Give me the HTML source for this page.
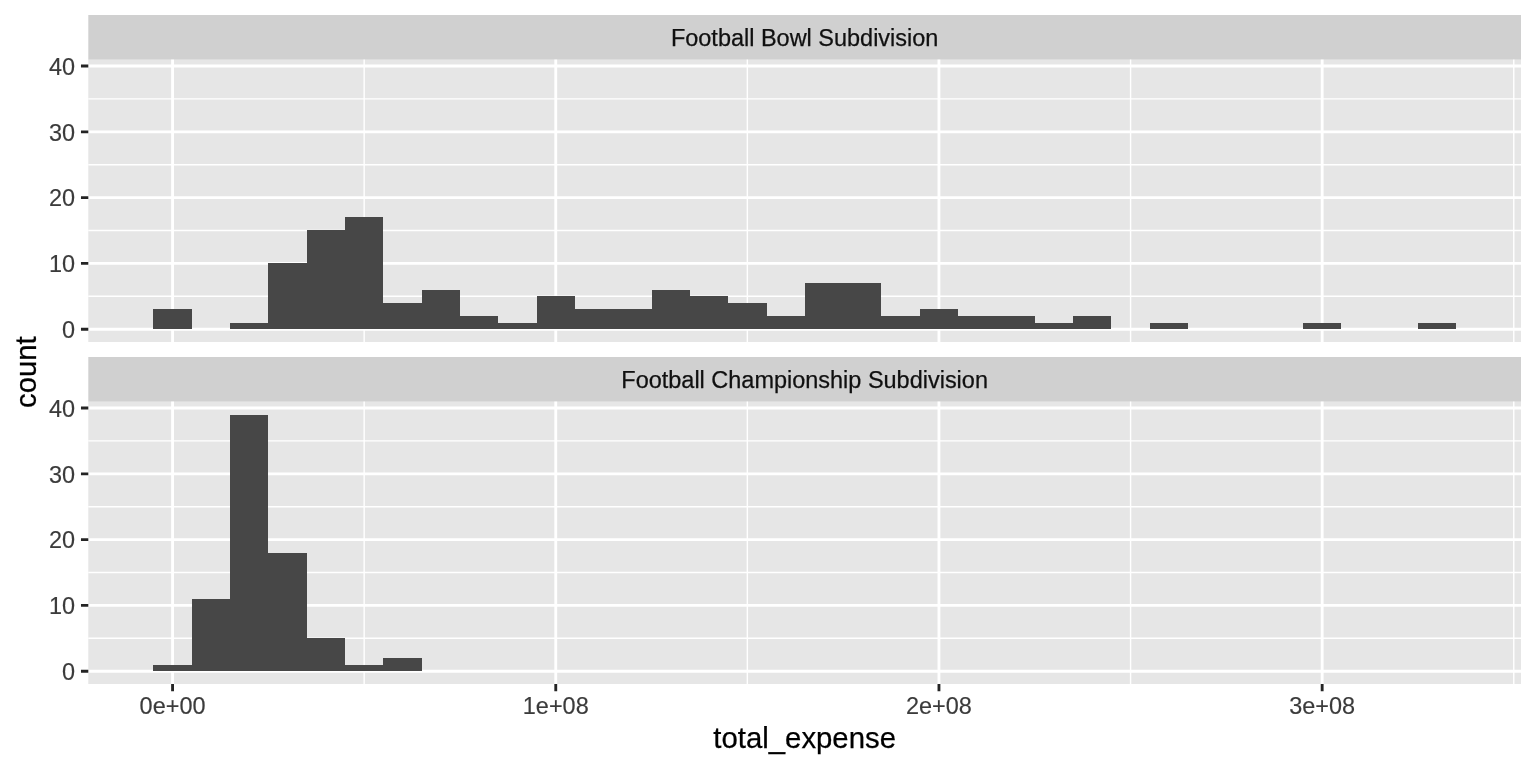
<!DOCTYPE html>
<html lang="en"><head><meta charset="utf-8"><title>total_expense histogram</title>
<style>
html,body{margin:0;padding:0;background:#fff;}
body{width:1536px;height:768px;overflow:hidden;}
svg{display:block;}
text{font-family:"Liberation Sans",sans-serif;}
.ax{font-size:23.47px;fill:#3b3b3b;stroke:#3b3b3b;stroke-width:0.15px;}
.st{font-size:23.47px;fill:#101010;stroke:#101010;stroke-width:0.25px;}
.ti{font-size:29.33px;fill:#000;stroke:#000;stroke-width:0.25px;}
</style></head><body>
<svg width="1536" height="768" viewBox="0 0 1536 768">
<rect x="0" y="0" width="1536" height="768" fill="#ffffff"/>
<g>
<rect x="88.3" y="59" width="1432.7" height="283" fill="#e6e6e6"/>
<path d="M88.3 296.3H1521M88.3 230.5H1521M88.3 164.7H1521M88.3 98.9H1521M364.16 59V342M747.36 59V342M1130.56 59V342M1513.76 59V342" stroke="#fff" stroke-width="1.42" fill="none"/>
<path d="M88.3 329.2H1521M88.3 263.4H1521M88.3 197.6H1521M88.3 131.8H1521M88.3 66H1521M172.56 59V342M555.76 59V342M938.96 59V342M1322.16 59V342" stroke="#fff" stroke-width="2.85" fill="none"/>
<g fill="#474747" shape-rendering="crispEdges"><rect x="153" y="309" width="39" height="20"/><rect x="230" y="323" width="38" height="6"/><rect x="268" y="263" width="39" height="66"/><rect x="307" y="230" width="38" height="99"/><rect x="345" y="217" width="38" height="112"/><rect x="383" y="303" width="39" height="26"/><rect x="422" y="290" width="38" height="39"/><rect x="460" y="316" width="38" height="13"/><rect x="498" y="323" width="39" height="6"/><rect x="537" y="296" width="38" height="33"/><rect x="575" y="309" width="38" height="20"/><rect x="613" y="309" width="39" height="20"/><rect x="652" y="290" width="38" height="39"/><rect x="690" y="296" width="38" height="33"/><rect x="728" y="303" width="39" height="26"/><rect x="767" y="316" width="38" height="13"/><rect x="805" y="283" width="38" height="46"/><rect x="843" y="283" width="38" height="46"/><rect x="881" y="316" width="39" height="13"/><rect x="920" y="309" width="38" height="20"/><rect x="958" y="316" width="38" height="13"/><rect x="996" y="316" width="39" height="13"/><rect x="1035" y="323" width="38" height="6"/><rect x="1073" y="316" width="38" height="13"/><rect x="1150" y="323" width="38" height="6"/><rect x="1303" y="323" width="38" height="6"/><rect x="1418" y="323" width="38" height="6"/></g>
<rect x="88.3" y="15" width="1432.7" height="44.4" fill="#d0d0d0"/>
<text class="st" x="804.65" y="45.8" text-anchor="middle" transform="rotate(0.02 804.65 45.8)">Football Bowl Subdivision</text>
<text class="ax" x="75.1" y="338.1" text-anchor="end" transform="rotate(0.02 75.1 338.1)">0</text>
<text class="ax" x="75.1" y="272.3" text-anchor="end" transform="rotate(0.02 75.1 272.3)">10</text>
<text class="ax" x="75.1" y="206.5" text-anchor="end" transform="rotate(0.02 75.1 206.5)">20</text>
<text class="ax" x="75.1" y="140.7" text-anchor="end" transform="rotate(0.02 75.1 140.7)">30</text>
<text class="ax" x="75.1" y="74.9" text-anchor="end" transform="rotate(0.02 75.1 74.9)">40</text>
<path d="M80.97 329.2H88.3M80.97 263.4H88.3M80.97 197.6H88.3M80.97 131.8H88.3M80.97 66H88.3" stroke="#242424" stroke-width="2.85" fill="none"/>
</g>
<g>
<rect x="88.3" y="401" width="1432.7" height="283" fill="#e6e6e6"/>
<path d="M88.3 638.3H1521M88.3 572.5H1521M88.3 506.7H1521M88.3 440.9H1521M364.16 401V684M747.36 401V684M1130.56 401V684M1513.76 401V684" stroke="#fff" stroke-width="1.42" fill="none"/>
<path d="M88.3 671.2H1521M88.3 605.4H1521M88.3 539.6H1521M88.3 473.8H1521M88.3 408H1521M172.56 401V684M555.76 401V684M938.96 401V684M1322.16 401V684" stroke="#fff" stroke-width="2.85" fill="none"/>
<g fill="#474747" shape-rendering="crispEdges"><rect x="153" y="665" width="39" height="6"/><rect x="192" y="599" width="38" height="72"/><rect x="230" y="415" width="38" height="256"/><rect x="268" y="553" width="39" height="118"/><rect x="307" y="638" width="38" height="33"/><rect x="345" y="665" width="38" height="6"/><rect x="383" y="658" width="39" height="13"/></g>
<rect x="88.3" y="357" width="1432.7" height="44.4" fill="#d0d0d0"/>
<text class="st" x="804.65" y="387.8" text-anchor="middle" transform="rotate(0.02 804.65 387.8)">Football Championship Subdivision</text>
<text class="ax" x="75.1" y="680.1" text-anchor="end" transform="rotate(0.02 75.1 680.1)">0</text>
<text class="ax" x="75.1" y="614.3" text-anchor="end" transform="rotate(0.02 75.1 614.3)">10</text>
<text class="ax" x="75.1" y="548.5" text-anchor="end" transform="rotate(0.02 75.1 548.5)">20</text>
<text class="ax" x="75.1" y="482.7" text-anchor="end" transform="rotate(0.02 75.1 482.7)">30</text>
<text class="ax" x="75.1" y="416.9" text-anchor="end" transform="rotate(0.02 75.1 416.9)">40</text>
<path d="M80.97 671.2H88.3M80.97 605.4H88.3M80.97 539.6H88.3M80.97 473.8H88.3M80.97 408H88.3" stroke="#242424" stroke-width="2.85" fill="none"/>
</g>
<text class="ax" x="172.56" y="713.9" text-anchor="middle" transform="rotate(0.02 172.56 713.9)">0e+00</text>
<text class="ax" x="555.76" y="713.9" text-anchor="middle" transform="rotate(0.02 555.76 713.9)">1e+08</text>
<text class="ax" x="938.96" y="713.9" text-anchor="middle" transform="rotate(0.02 938.96 713.9)">2e+08</text>
<text class="ax" x="1322.16" y="713.9" text-anchor="middle" transform="rotate(0.02 1322.16 713.9)">3e+08</text>
<path d="M172.56 684V691.33M555.76 684V691.33M938.96 684V691.33M1322.16 684V691.33" stroke="#242424" stroke-width="2.85" fill="none"/>
<text class="ti" x="804.65" y="747.6" text-anchor="middle" transform="rotate(0.02 804.65 747.6)">total_expense</text>
<text class="ti" transform="translate(36 372.1) rotate(-90.02)" x="0" y="0" text-anchor="middle">count</text>
</svg>
</body></html>
